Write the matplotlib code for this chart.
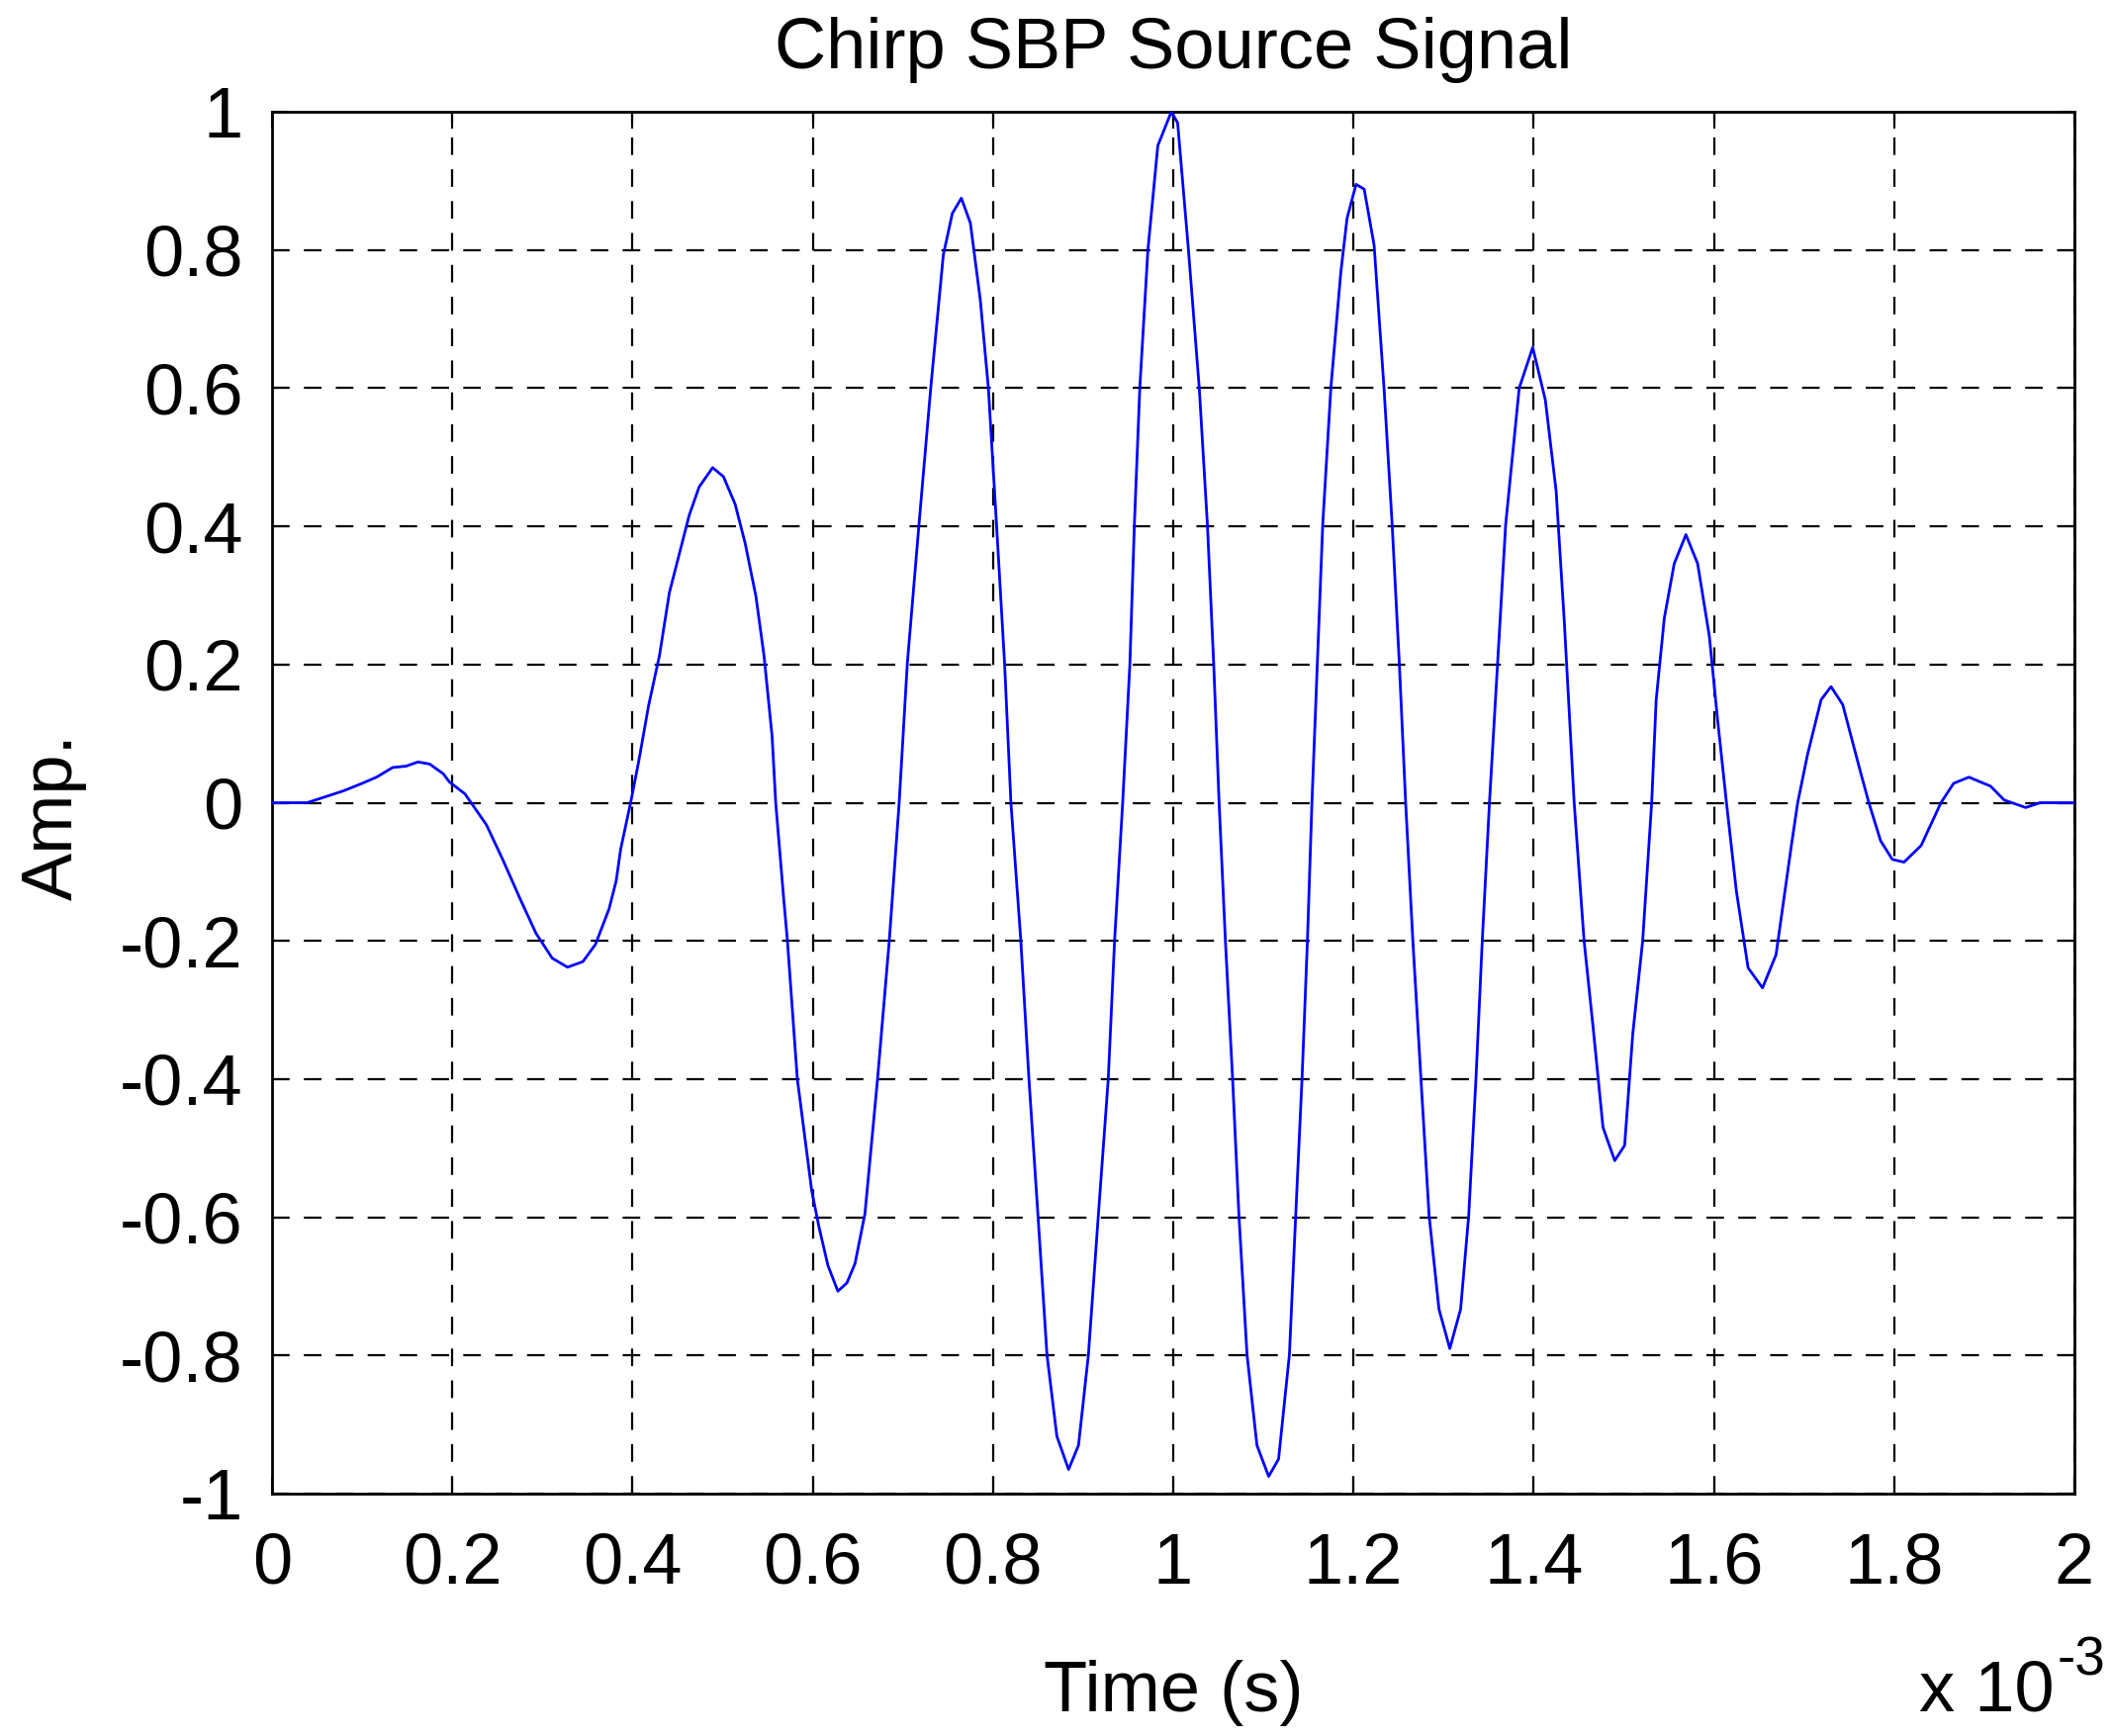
import numpy as np
import matplotlib
matplotlib.use("Agg")
import matplotlib.pyplot as plt

# samples (time in ms, amplitude)
time_ms = [
    0.000, 0.039, 0.079, 0.100, 0.116, 0.134, 0.149, 0.162, 0.175, 0.190,
    0.197, 0.214, 0.221, 0.238, 0.256, 0.275, 0.293, 0.311, 0.328, 0.345,
    0.359, 0.374, 0.382, 0.387, 0.398, 0.407, 0.418, 0.430, 0.441, 0.452,
    0.463, 0.474, 0.489, 0.501, 0.514, 0.525, 0.537, 0.546, 0.555, 0.559,
    0.568, 0.572, 0.583, 0.599, 0.607, 0.617, 0.628, 0.638,
    0.647, 0.658, 0.672, 0.685, 0.696, 0.705, 0.718, 0.731, 0.745, 0.755,
    0.765, 0.775, 0.786, 0.795, 0.804, 0.813, 0.820, 0.831, 0.840, 0.850,
    0.860, 0.871, 0.884, 0.895, 0.906, 0.917, 0.928, 0.935, 0.944, 0.952,
    0.957, 0.963, 0.972, 0.983, 0.998, 1.005, 1.017, 1.029, 1.038, 1.045,
    1.051, 1.058, 1.066, 1.073, 1.082, 1.093, 1.106, 1.117, 1.129, 1.136,
    1.143, 1.149, 1.154, 1.160, 1.166, 1.175, 1.186, 1.193, 1.203, 1.212,
    1.223, 1.234, 1.243, 1.251, 1.258, 1.266, 1.275, 1.284, 1.295, 1.307,
    1.319, 1.328, 1.336, 1.343, 1.351, 1.360, 1.369, 1.384, 1.399, 1.413,
    1.425, 1.434, 1.445, 1.456, 1.466, 1.477, 1.490, 1.501, 1.510, 1.521,
    1.531, 1.536, 1.545, 1.556, 1.569, 1.582, 1.595, 1.604, 1.614, 1.625,
    1.638, 1.654, 1.669, 1.686, 1.693, 1.704, 1.719, 1.730, 1.743, 1.763,
    1.772, 1.785, 1.798, 1.811, 1.830, 1.852, 1.866, 1.883, 1.907, 1.922,
    1.946, 1.962, 2.000,
]
amp = [
    0.000, 0.000, 0.017, 0.028, 0.037, 0.051, 0.053, 0.059, 0.056, 0.042,
    0.030, 0.013, 0.000, -0.032, -0.082, -0.138, -0.189, -0.225, -0.238, -0.230,
    -0.205, -0.154, -0.113, -0.067, 0.000, 0.060, 0.141, 0.213, 0.304, 0.360,
    0.416, 0.457, 0.485, 0.472, 0.432, 0.376, 0.299, 0.213, 0.096, 0.000,
    -0.141, -0.200, -0.400, -0.562, -0.614, -0.670, -0.707, -0.695,
    -0.667, -0.595, -0.400, -0.200, 0.000, 0.201, 0.403, 0.600, 0.793, 0.853,
    0.875, 0.839, 0.728, 0.600, 0.403, 0.201, 0.000, -0.200, -0.400, -0.597,
    -0.799, -0.917, -0.965, -0.930, -0.799, -0.597, -0.400, -0.200, 0.000, 0.201,
    0.403, 0.600, 0.800, 0.951, 1.000, 0.984, 0.800, 0.600, 0.403, 0.201,
    0.000, -0.200, -0.400, -0.597, -0.799, -0.930, -0.975, -0.950, -0.799, -0.597,
    -0.400, -0.200, 0.000, 0.201, 0.403, 0.600, 0.767, 0.846, 0.895, 0.888,
    0.807, 0.600, 0.403, 0.201, 0.000, -0.200, -0.400, -0.597, -0.733, -0.790,
    -0.733, -0.597, -0.400, -0.200, 0.000, 0.201, 0.403, 0.600, 0.659, 0.583,
    0.451, 0.263, 0.000, -0.200, -0.325, -0.470, -0.518, -0.496, -0.335, -0.200,
    0.000, 0.149, 0.267, 0.346, 0.388, 0.346, 0.241, 0.122, 0.000, -0.128,
    -0.239, -0.268, -0.220, -0.062, 0.000, 0.070, 0.149, 0.168, 0.142, 0.043,
    0.000, -0.055, -0.082, -0.086, -0.062, 0.000, 0.028, 0.037, 0.024, 0.004,
    -0.007, 0.000, 0.000,
]

x_ticks = [0, 0.2, 0.4, 0.6, 0.8, 1, 1.2, 1.4, 1.6, 1.8, 2]
y_ticks = [-1, -0.8, -0.6, -0.4, -0.2, 0, 0.2, 0.4, 0.6, 0.8, 1]

FS = 52

plt.rcParams.update({
    "font.family": ["Liberation Sans", "DejaVu Sans"],
    "axes.unicode_minus": False,
    "font.size": FS,
})

fig = plt.figure(figsize=(21.36, 17.55), dpi=100)
ax = fig.add_axes([0.1287, 0.1396, 0.853, 0.796])

ax.plot(time_ms, amp, color="#0000FF", linewidth=2.0, zorder=3)

ax.set_xlim(0, 2)
ax.set_ylim(-1, 1)
ax.set_xticks(x_ticks)
ax.set_xticklabels([f"{v:g}" for v in x_ticks])
ax.set_yticks(y_ticks)
ax.set_yticklabels([f"{v:g}" for v in y_ticks])

ax.grid(True, color="black", linewidth=1.6, linestyle=(0, (8, 6.5)))
ax.set_axisbelow(True)
ax.tick_params(direction="in", length=12, width=1.5, top=True, right=True,
               labelsize=FS)
ax.tick_params(axis="x", pad=28)
ax.tick_params(axis="y", pad=21)
for s in ax.spines.values():
    s.set_linewidth(2.0)

ax.set_title("Chirp SBP Source Signal", fontsize=FS, pad=32)

ax.set_xlabel("Time (s)", fontsize=FS)
ax.xaxis.label.set_va("baseline")
ax.xaxis.set_label_coords(0.5, -0.1575)

ax.set_ylabel("Amp.", fontsize=FS)
ax.yaxis.label.set_va("baseline")
ax.yaxis.set_label_coords(-0.111, 0.49)

# exponent note at lower right, MATLAB style
fig.text(0.9724, 0.01425, "x 10", fontsize=FS, ha="right", va="baseline")
fig.text(0.9738, 0.0353, "-3", fontsize=FS * 0.76, ha="left", va="baseline")

fig.savefig("out.png", dpi=100, facecolor="white")
